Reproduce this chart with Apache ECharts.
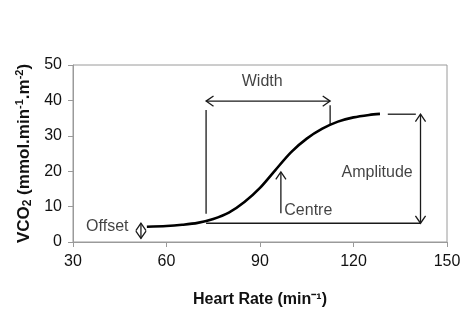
<!DOCTYPE html>
<html><head><meta charset="utf-8">
<script src="https://cdn.jsdelivr.net/npm/echarts@6/dist/echarts.min.js"></script>
<style>html,body{margin:0;padding:0;background:#fff}#c{width:474px;height:326px}</style>
</head><body><div id="c"></div>
<script>
// Fitted curve
const heartRate = [53.7, 60, 65, 70, 75, 80, 85, 90, 95, 100, 105, 110, 115, 120, 125, 128.5];
const vco2 = [4.3, 4.5, 4.85, 5.4, 6.5, 8.3, 11.3, 15.3, 20.4, 25.4, 29.2, 32.0, 34.0, 35.2, 35.9, 36.2];
const xTicks = [30, 60, 90, 120, 150];
const yTicks = [0, 10, 20, 30, 40, 50];
// Annotation segments: x1, y1, x2, y2, head at start, head at end
const segments = [
  [72.7, 8.0, 72.7, 37.3, 0, 0],
  [72.7, 39.8, 112.5, 39.8, 1, 1],
  [112.5, 38.6, 112.5, 33.0, 0, 0],
  [96.7, 8.1, 96.7, 19.8, 0, 1],
  [131, 36.1, 140, 36.1, 0, 0],
  [141.5, 36.1, 141.5, 5.3, 1, 1],
  [72.7, 5.3, 141.5, 5.3, 0, 0],
  [51.8, 5.3, 51.8, 1.0, 1, 1]
];
const labelText = ['Width', 'Centre', 'Amplitude', 'Offset'];
const labelX = [90.7, 105.5, 127.6, 41];
const labelY = [45.3, 9.0, 19.5, 4.4];

const FONT = '"Liberation Sans", Arial, sans-serif';
const chart = echarts.init(document.getElementById('c'), null, {renderer: 'canvas'});

function head(tip, from, len) {
  const dx = from[0] - tip[0], dy = from[1] - tip[1];
  const d = Math.hypot(dx, dy) || 1;
  const ux = dx / d, uy = dy / d;
  const a = 0.6;
  const c = Math.cos(a), s = Math.sin(a);
  const w1 = [tip[0] + len * (ux * c - uy * s), tip[1] + len * (ux * s + uy * c)];
  const w2 = [tip[0] + len * (ux * c + uy * s), tip[1] + len * (-ux * s + uy * c)];
  return {type: 'polyline', shape: {points: [w1, tip, w2]}, style: {stroke: '#1a1a1a', lineWidth: 1.3, fill: null}};
}

chart.setOption({
  animation: false,
  grid: {left: 73, right: 27, top: 65, bottom: 84, show: true, borderColor: '#9a9a9a', borderWidth: 1},
  xAxis: {
    type: 'value', min: 30, max: 150, interval: 30,
    name: 'Heart Rate (min⁻¹)', nameLocation: 'middle', nameGap: 50,
    nameTextStyle: {fontFamily: FONT, fontSize: 16, fontWeight: 'bold', color: '#111'},
    axisLine: {lineStyle: {color: '#9a9a9a', width: 1}},
    axisTick: {show: true, length: 5, lineStyle: {color: '#9a9a9a'}},
    axisLabel: {fontFamily: FONT, fontSize: 16, color: '#111', margin: 12},
    splitLine: {show: false}
  },
  yAxis: {
    type: 'value', min: 0, max: 50, interval: 10,
    name: '{b|VCO}{sub|2}{b| (mmol.min}{sup|-1}{b|.m}{sup|-2}{b|)}',
    nameLocation: 'middle', nameGap: 37, nameRotate: 90,
    nameTextStyle: {fontFamily: FONT, fontSize: 17, fontWeight: 'bold', color: '#111',
      rich: {
        b: {fontFamily: FONT, fontSize: 17, fontWeight: 'bold', color: '#111'},
        sub: {fontFamily: FONT, fontSize: 12, fontWeight: 'bold', color: '#111', padding: [6, 0, 0, 0]},
        sup: {fontFamily: FONT, fontSize: 11, fontWeight: 'bold', color: '#111', padding: [0, 0, 9, 0]}
      }},
    axisLine: {show: true, lineStyle: {color: '#9a9a9a', width: 1}},
    axisTick: {show: true, length: 5, lineStyle: {color: '#9a9a9a'}},
    axisLabel: {fontFamily: FONT, fontSize: 16, color: '#111', margin: 11},
    splitLine: {show: false}
  },
  series: [
    {
      type: 'line', smooth: 0.3, symbol: 'none',
      data: heartRate.map((x, i) => [x, vco2[i]]),
      lineStyle: {color: '#000', width: 2.6}, z: 5
    },
    {
      type: 'custom', z: 4,
      data: segments,
      renderItem: function (params, api) {
        const p1 = api.coord([api.value(0), api.value(1)]);
        const p2 = api.coord([api.value(2), api.value(3)]);
        const children = [{type: 'line', shape: {x1: p1[0], y1: p1[1], x2: p2[0], y2: p2[1]},
          style: {stroke: '#1a1a1a', lineWidth: 1.3}}];
        if (api.value(4)) children.push(head(p1, p2, 9));
        if (api.value(5)) children.push(head(p2, p1, 9));
        return {type: 'group', children: children};
      }
    },
    {
      type: 'scatter', symbolSize: 0, z: 6,
      data: labelText.map((t, i) => ({value: [labelX[i], labelY[i]], name: t})),
      label: {show: true, position: 'inside', formatter: '{b}', fontFamily: FONT, fontSize: 16, color: '#111'}
    }
  ]
});
</script></body></html>
